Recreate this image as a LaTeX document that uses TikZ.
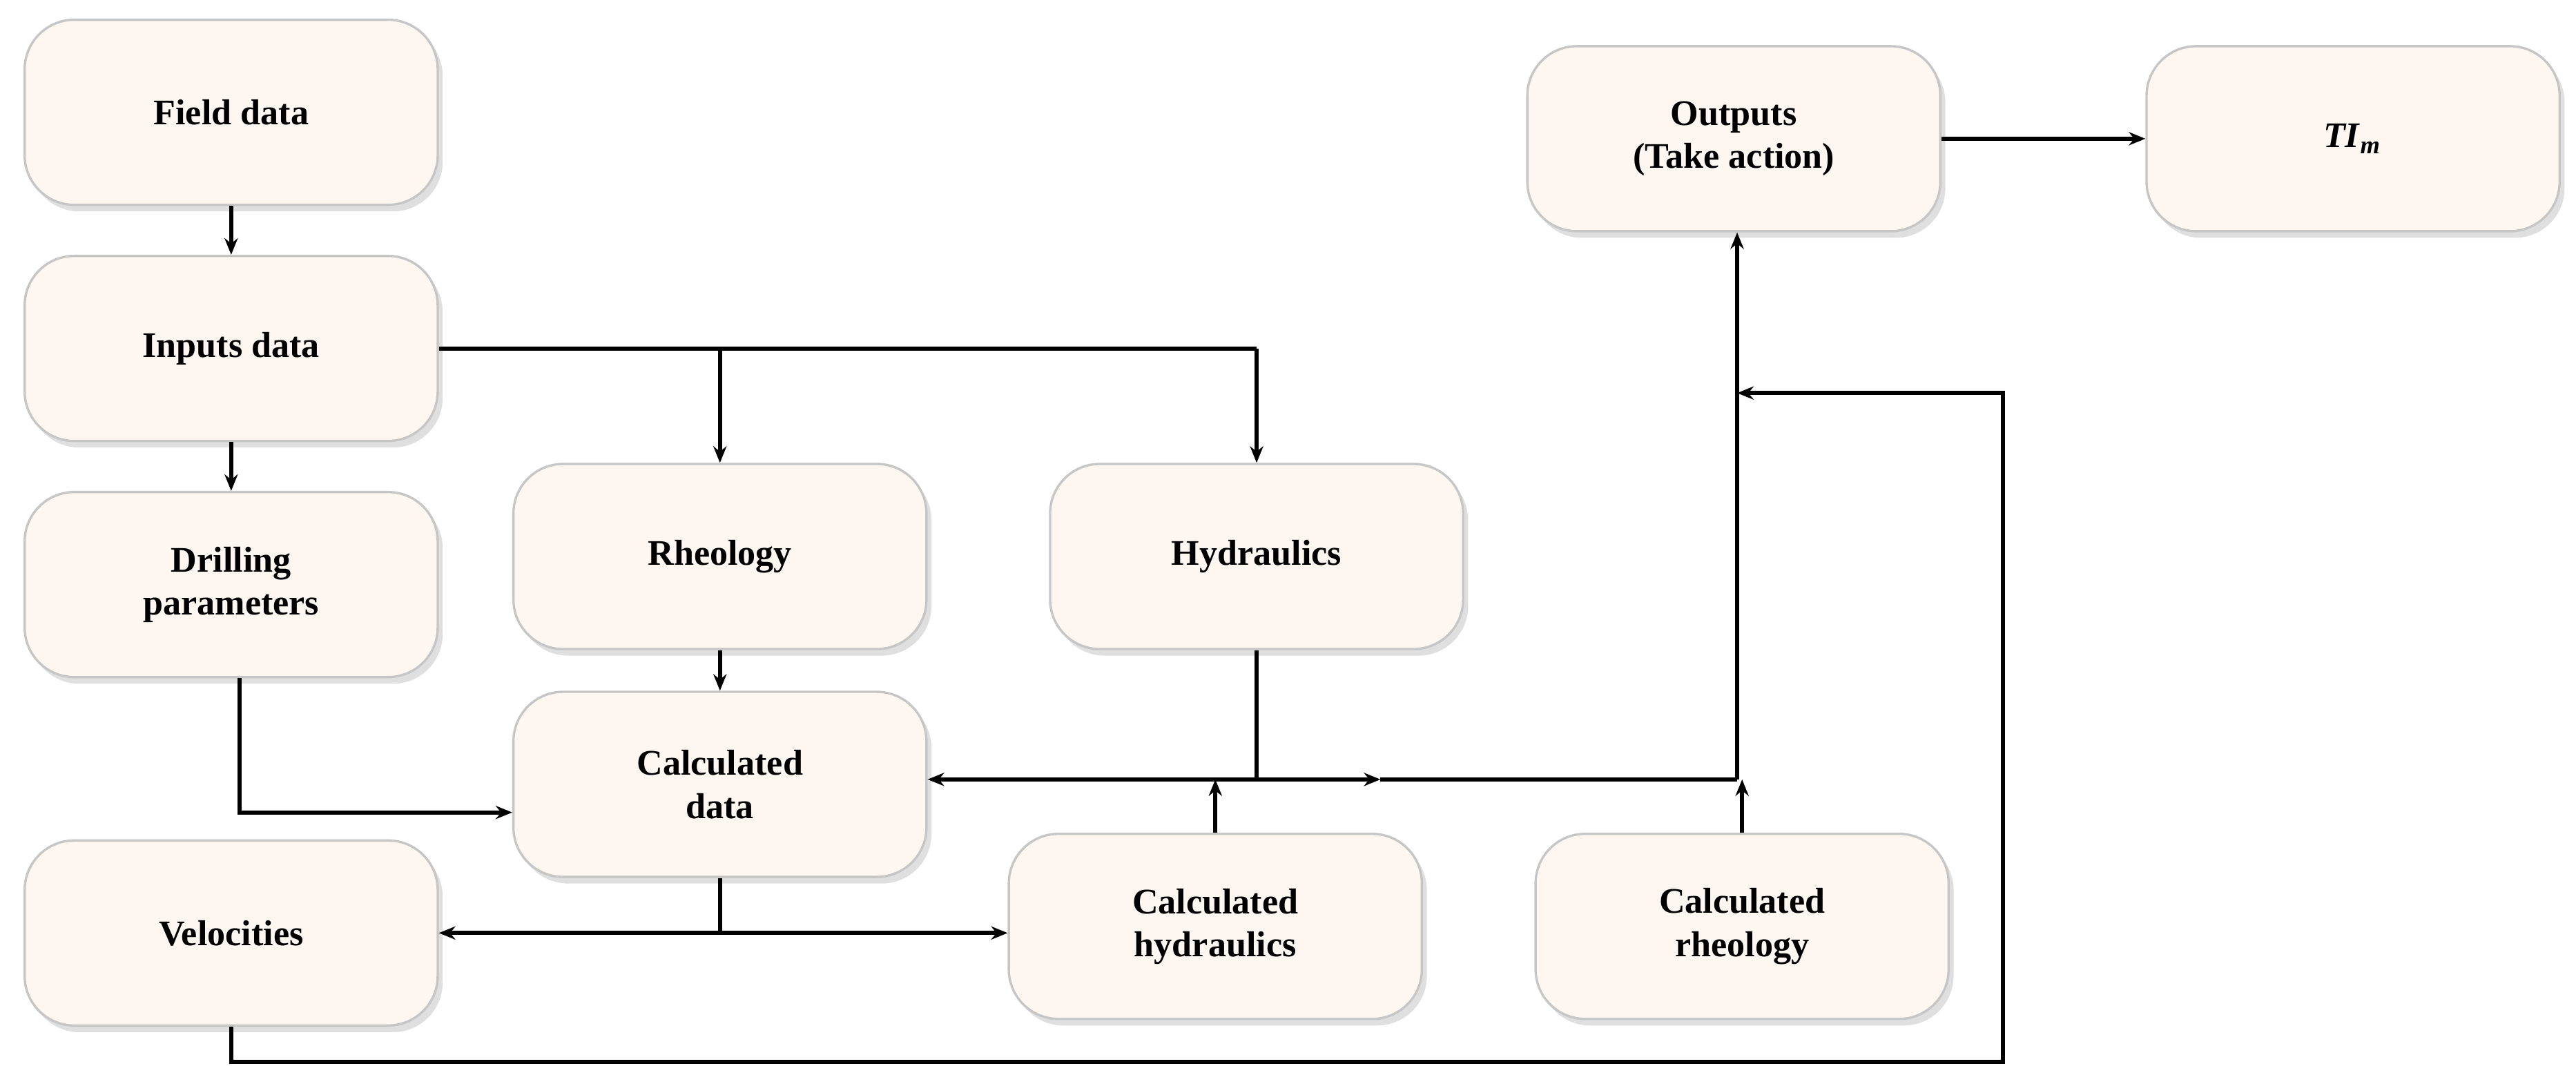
\documentclass[tikz,border=0pt]{standalone}
\usepackage{fontspec}
\setmainfont{Liberation Serif}
\usetikzlibrary{shadows,arrows.meta}
\definecolor{boxfill}{HTML}{FDF6F1}
\begin{document}
\begin{tikzpicture}[x=0.01cm,y=-0.01cm,
  box/.style={draw=gray!45,line width=0.4pt,fill=boxfill,rounded corners=0.3cm,
    minimum width=2.5cm,minimum height=1.12cm,align=center,
    font=\fontsize{6.2}{7.4}\selectfont\bfseries,
    drop shadow={shadow xshift=0.03cm,shadow yshift=-0.04cm,opacity=0.25,fill=gray}},
  ar/.style={-{Stealth[length=0.1cm,width=0.08cm]},line width=0.7pt},
  ln/.style={line width=0.7pt}]
\useasboundingbox (0,0) rectangle (1560,651);
\node[box] (field) at (140,68) {Field data};
\node[box] (inputs) at (140,211) {Inputs data};
\node[box] (drill) at (140,354) {Drilling\\parameters};
\node[box] (rheo) at (436,337) {Rheology};
\node[box] (hyd) at (761,337) {Hydraulics};
\node[box] (cdata) at (436,475) {Calculated\\data};
\node[box] (vel) at (140,565) {Velocities};
\node[box] (chyd) at (736,561) {Calculated\\hydraulics};
\node[box] (crheo) at (1055,561) {Calculated\\rheology};
\node[box] (out) at (1050,84) {Outputs\\(Take action)};
\node[box] (ti) at (1425,84) {\textit{TI}\textsubscript{\textit{m}}};
\coordinate (j1) at (436,211);
\coordinate (j2) at (761,211);
\coordinate (h1) at (761,472);
\coordinate (h2) at (1052,472);
\coordinate (m1) at (836,472);
\coordinate (c1) at (436,565);
\coordinate (d1) at (145,492);
\coordinate (v1) at (140,643);
\coordinate (v2) at (1213,643);
\coordinate (v3) at (1213,238);
\coordinate (v4) at (1052,238);
\draw[ar] (field) -- (inputs);
\draw[ar] (inputs) -- (drill);
\draw[ln] (inputs.east) -- (j2);
\draw[ar] (j1) -- (rheo);
\draw[ar] (j2) -- (hyd);
\draw[ar] (rheo) -- (cdata);
\draw[ar] (drill.south -| d1) -- (d1) -- (d1 -| cdata.west);
\draw[ln] (hyd.south) -- (h1);
\draw[ar] (h1) -- (h1 -| cdata.east);
\draw[ar] (h1) -- (m1);
\draw[ln] (m1) -- (h2);
\draw[ar] (h2) -- (h2 |- out.south);
\draw[ar] (chyd.north) -- (chyd.north |- h1);
\draw[ar] (crheo.north) -- (crheo.north |- h2);
\draw[ln] (cdata.south) -- (c1);
\draw[ar] (c1) -- (vel.east);
\draw[ar] (c1) -- (c1 -| chyd.west);
\draw[ar] (vel.south) -- (v1) -- (v2) -- (v3) -- (v4);
\draw[ar] (out) -- (ti);
\end{tikzpicture}
\end{document}
